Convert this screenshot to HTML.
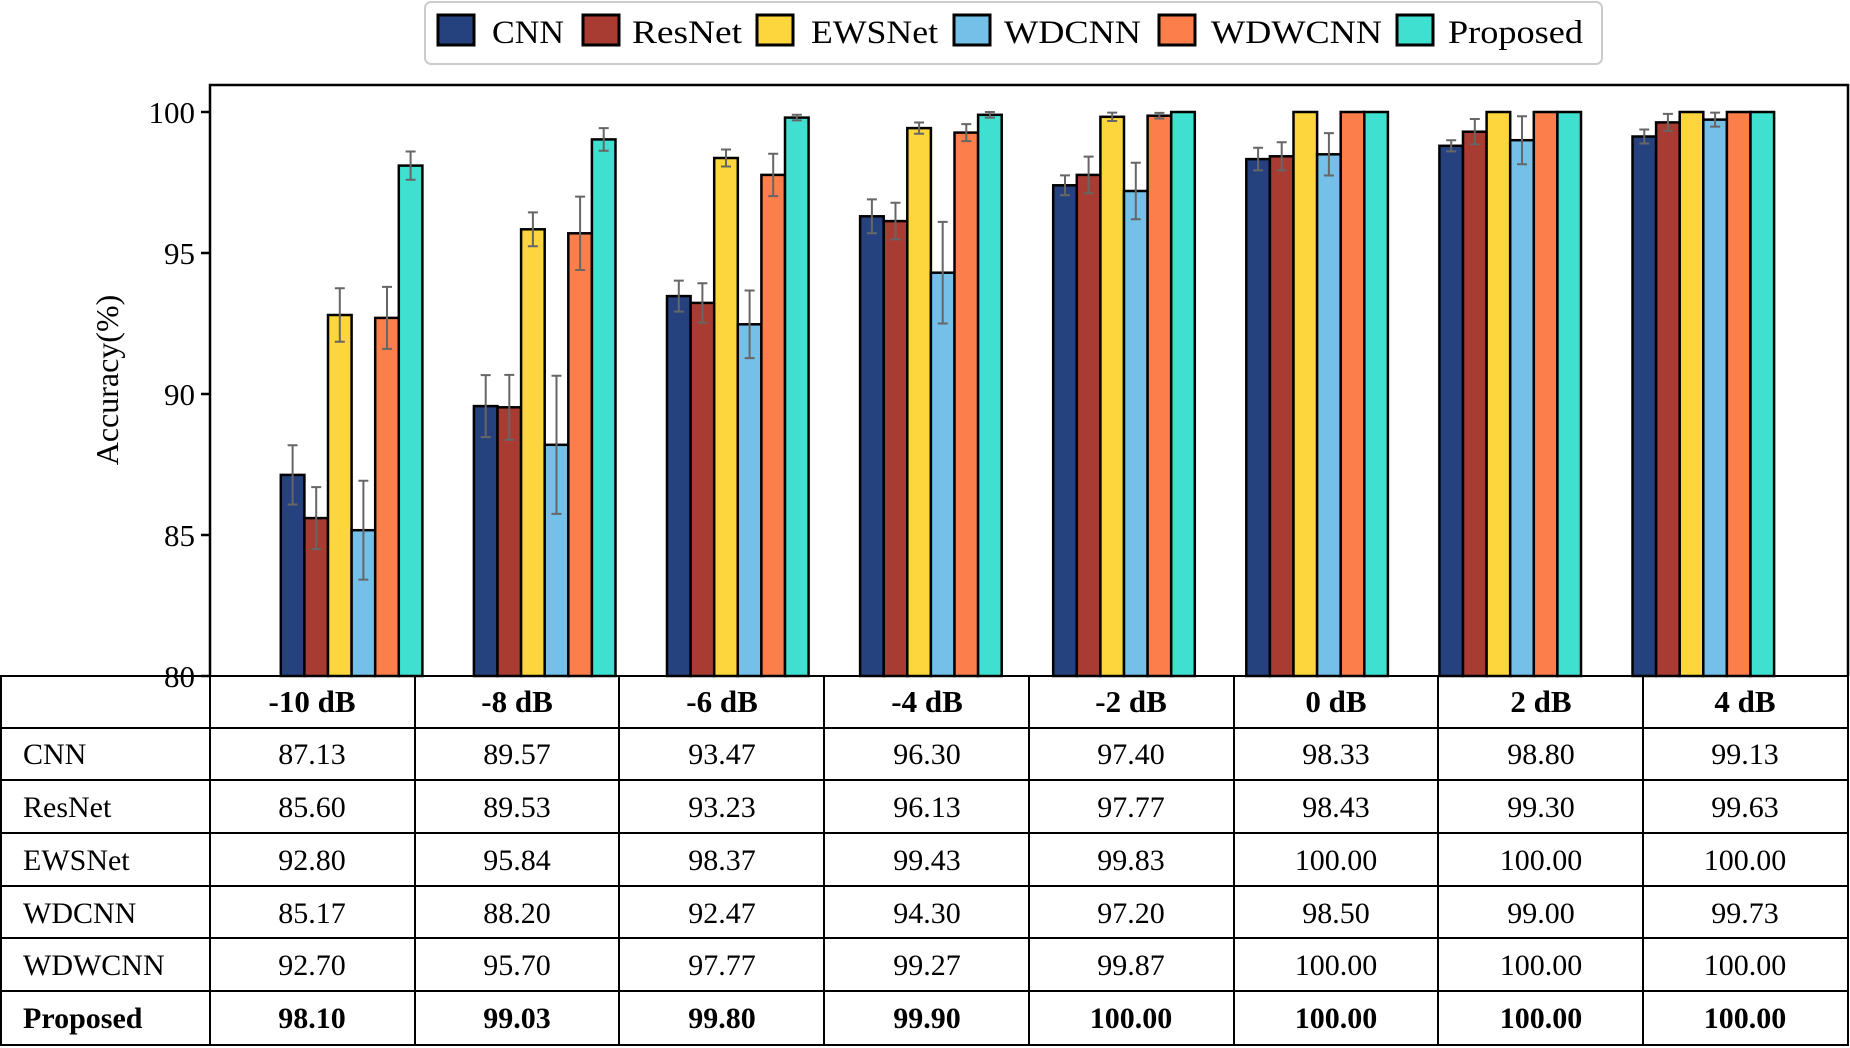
<!DOCTYPE html>
<html><head><meta charset="utf-8"><style>
html,body{margin:0;padding:0;background:#fff}
svg{display:block;font-family:"Liberation Serif",serif}
</style></head><body>
<svg width="1850" height="1048" viewBox="0 0 1850 1048" xmlns="http://www.w3.org/2000/svg">
<!-- legend -->
<rect x="425" y="2" width="1177" height="62" rx="6" fill="#fff" stroke="#ccc" stroke-width="2"/>
<g stroke="#000" stroke-width="3">
<rect x="438" y="15" width="36" height="30" fill="#26427e"/>
<rect x="583" y="15" width="36" height="30" fill="#a83c32"/>
<rect x="757" y="15" width="36" height="30" fill="#fdd53c"/>
<rect x="954" y="15" width="36" height="30" fill="#74c0e8"/>
<rect x="1159" y="15" width="36" height="30" fill="#fc7f4b"/>
<rect x="1397" y="15" width="36" height="30" fill="#40e0d0"/>
</g>
<g font-size="33" fill="#000" lengthAdjust="spacingAndGlyphs">
<text x="492" y="43" textLength="72" lengthAdjust="spacingAndGlyphs">CNN</text>
<text x="632" y="43" textLength="110" lengthAdjust="spacingAndGlyphs">ResNet</text>
<text x="811" y="43" textLength="127" lengthAdjust="spacingAndGlyphs">EWSNet</text>
<text x="1004" y="43" textLength="137" lengthAdjust="spacingAndGlyphs">WDCNN</text>
<text x="1211" y="43" textLength="171" lengthAdjust="spacingAndGlyphs">WDWCNN</text>
<text x="1448" y="43" textLength="135" lengthAdjust="spacingAndGlyphs">Proposed</text>
</g>
<!-- axes -->
<g stroke="#000" stroke-width="2.5" fill="none">
<path d="M210,676V85H1848V676"/>
<path d="M210,112h-9M210,253h-9M210,394h-9M210,535h-9M210,676h-9"/>
</g>
<g font-size="31" text-anchor="end">
<text x="195" y="123">100</text>
<text x="195" y="264">95</text>
<text x="195" y="405">90</text>
<text x="195" y="546">85</text>
<text x="195" y="687">80</text>
</g>
<text transform="translate(118,380) rotate(-90)" font-size="32" text-anchor="middle">Accuracy(%)</text>
<!-- bars -->
<g stroke="#000" stroke-width="2.5">
<g fill="#26427e">
<rect x="280.8" y="474.9" width="23.6" height="201.1"/>
<rect x="473.9" y="406.1" width="23.6" height="269.9"/>
<rect x="667.0" y="296.1" width="23.6" height="379.9"/>
<rect x="860.1" y="216.3" width="23.6" height="459.7"/>
<rect x="1053.2" y="185.3" width="23.6" height="490.7"/>
<rect x="1246.3" y="159.1" width="23.6" height="516.9"/>
<rect x="1439.4" y="145.8" width="23.6" height="530.2"/>
<rect x="1632.5" y="136.5" width="23.6" height="539.5"/>
</g>
<g fill="#a83c32">
<rect x="304.4" y="518.1" width="23.6" height="157.9"/>
<rect x="497.5" y="407.3" width="23.6" height="268.7"/>
<rect x="690.6" y="302.9" width="23.6" height="373.1"/>
<rect x="883.7" y="221.1" width="23.6" height="454.9"/>
<rect x="1076.8" y="174.9" width="23.6" height="501.1"/>
<rect x="1269.9" y="156.3" width="23.6" height="519.7"/>
<rect x="1463.0" y="131.7" width="23.6" height="544.3"/>
<rect x="1656.1" y="122.4" width="23.6" height="553.6"/>
</g>
<g fill="#fdd53c">
<rect x="328.0" y="315.0" width="23.6" height="361.0"/>
<rect x="521.1" y="229.3" width="23.6" height="446.7"/>
<rect x="714.2" y="158.0" width="23.6" height="518.0"/>
<rect x="907.3" y="128.1" width="23.6" height="547.9"/>
<rect x="1100.4" y="116.8" width="23.6" height="559.2"/>
<rect x="1293.5" y="112" width="23.6" height="564"/>
<rect x="1486.6" y="112" width="23.6" height="564"/>
<rect x="1679.7" y="112" width="23.6" height="564"/>
</g>
<g fill="#74c0e8">
<rect x="351.6" y="530.2" width="23.6" height="145.8"/>
<rect x="544.7" y="444.8" width="23.6" height="231.2"/>
<rect x="737.8" y="324.3" width="23.6" height="351.7"/>
<rect x="930.9" y="272.7" width="23.6" height="403.3"/>
<rect x="1124.0" y="191.0" width="23.6" height="485.0"/>
<rect x="1317.1" y="154.3" width="23.6" height="521.7"/>
<rect x="1510.2" y="140.2" width="23.6" height="535.8"/>
<rect x="1703.3" y="119.6" width="23.6" height="556.4"/>
</g>
<g fill="#fc7f4b">
<rect x="375.2" y="317.9" width="23.6" height="358.1"/>
<rect x="568.3" y="233.3" width="23.6" height="442.7"/>
<rect x="761.4" y="174.9" width="23.6" height="501.1"/>
<rect x="954.5" y="132.6" width="23.6" height="543.4"/>
<rect x="1147.6" y="115.7" width="23.6" height="560.3"/>
<rect x="1340.7" y="112" width="23.6" height="564"/>
<rect x="1533.8" y="112" width="23.6" height="564"/>
<rect x="1726.9" y="112" width="23.6" height="564"/>
</g>
<g fill="#40e0d0">
<rect x="398.8" y="165.6" width="23.6" height="510.4"/>
<rect x="591.9" y="139.4" width="23.6" height="536.6"/>
<rect x="785.0" y="117.6" width="23.6" height="558.4"/>
<rect x="978.1" y="114.8" width="23.6" height="561.2"/>
<rect x="1171.2" y="112" width="23.6" height="564"/>
<rect x="1364.3" y="112" width="23.6" height="564"/>
<rect x="1557.4" y="112" width="23.6" height="564"/>
<rect x="1750.5" y="112" width="23.6" height="564"/>
</g>
</g>
<!-- error bars -->
<g stroke="#666" stroke-width="2" fill="none">
<path d="M292.6,445.3V504.5M287.6,445.3h10M287.6,504.5h10"/>
<path d="M316.2,487.1V549.1M311.2,487.1h10M311.2,549.1h10"/>
<path d="M339.8,288.2V341.8M334.8,288.2h10M334.8,341.8h10"/>
<path d="M363.4,480.8V579.6M358.4,480.8h10M358.4,579.6h10"/>
<path d="M387.0,286.9V348.9M382,286.9h10M382,348.9h10"/>
<path d="M410.6,151.5V179.7M405.6,151.5h10M405.6,179.7h10"/>

<path d="M485.7,375.1V437.1M480.7,375.1h10M480.7,437.1h10"/>
<path d="M509.3,374.9V439.7M504.3,374.9h10M504.3,439.7h10"/>
<path d="M532.9,212.4V246.2M527.9,212.4h10M527.9,246.2h10"/>
<path d="M556.5,375.7V513.9M551.5,375.7h10M551.5,513.9h10"/>
<path d="M580.1,196.6V270.0M575.1,196.6h10M575.1,270.0h10"/>
<path d="M603.7,128.1V150.7M598.7,128.1h10M598.7,150.7h10"/>

<path d="M678.8,280.6V311.6M673.8,280.6h10M673.8,311.6h10"/>
<path d="M702.4,283.2V322.6M697.4,283.2h10M697.4,322.6h10"/>
<path d="M726.0,149.5V166.5M721,149.5h10M721,166.5h10"/>
<path d="M749.6,290.5V358.1M744.6,290.5h10M744.6,358.1h10"/>
<path d="M773.2,153.7V196.1M768.2,153.7h10M768.2,196.1h10"/>
<path d="M796.8,114.8V120.4M791.8,114.8h10M791.8,120.4h10"/>

<path d="M871.9,199.4V233.2M866.9,199.4h10M866.9,233.2h10"/>
<path d="M895.5,202.8V239.4M890.5,202.8h10M890.5,239.4h10"/>
<path d="M919.1,122.5V133.7M914.1,122.5h10M914.1,133.7h10"/>
<path d="M942.7,221.9V323.5M937.7,221.9h10M937.7,323.5h10"/>
<path d="M966.3,124.1V141.1M961.3,124.1h10M961.3,141.1h10"/>
<path d="M989.9,112V117.6M984.9,112h10M984.9,117.6h10"/>

<path d="M1065.0,175.4V195.2M1060,175.4h10M1060,195.2h10"/>
<path d="M1088.6,156.6V193.2M1083.6,156.6h10M1083.6,193.2h10"/>
<path d="M1112.2,112.6V121.0M1107.2,112.6h10M1107.2,121.0h10"/>
<path d="M1135.8,162.8V219.2M1130.8,162.8h10M1130.8,219.2h10"/>
<path d="M1159.4,112.9V118.5M1154.4,112.9h10M1154.4,118.5h10"/>

<path d="M1258.1,147.8V170.4M1253.1,147.8h10M1253.1,170.4h10"/>
<path d="M1281.7,142.2V170.4M1276.7,142.2h10M1276.7,170.4h10"/>
<path d="M1328.9,133.1V175.5M1323.9,133.1h10M1323.9,175.5h10"/>

<path d="M1451.2,140.2V151.4M1446.2,140.2h10M1446.2,151.4h10"/>
<path d="M1474.8,119.0V144.4M1469.8,119.0h10M1469.8,144.4h10"/>
<path d="M1522.0,116.2V164.2M1517,116.2h10M1517,164.2h10"/>

<path d="M1644.3,129.5V143.5M1639.3,129.5h10M1639.3,143.5h10"/>
<path d="M1667.9,113.9V130.9M1662.9,113.9h10M1662.9,130.9h10"/>
<path d="M1715.1,112.6V126.6M1710.1,112.6h10M1710.1,126.6h10"/>
</g>
<!-- table -->
<g stroke="#000" stroke-width="2" fill="none">
<rect x="1" y="676" width="1847" height="369"/>
<path d="M1,728H1848M1,780H1848M1,833H1848M1,886H1848M1,938H1848M1,991H1848"/>
<path d="M210,676V1045M415,676V1045M619,676V1045M824,676V1045M1029,676V1045M1234,676V1045M1438,676V1045M1643,676V1045"/>
</g>
<g font-size="30" text-anchor="middle">
<g font-weight="bold" font-size="31">
<text x="312" y="712">-10 dB</text><text x="517" y="712">-8 dB</text><text x="722" y="712">-6 dB</text><text x="927" y="712">-4 dB</text><text x="1131" y="712">-2 dB</text><text x="1336" y="712">0 dB</text><text x="1541" y="712">2 dB</text><text x="1745" y="712">4 dB</text>
</g>
<text x="312" y="764">87.13</text><text x="517" y="764">89.57</text><text x="722" y="764">93.47</text><text x="927" y="764">96.30</text><text x="1131" y="764">97.40</text><text x="1336" y="764">98.33</text><text x="1541" y="764">98.80</text><text x="1745" y="764">99.13</text>
<text x="312" y="817">85.60</text><text x="517" y="817">89.53</text><text x="722" y="817">93.23</text><text x="927" y="817">96.13</text><text x="1131" y="817">97.77</text><text x="1336" y="817">98.43</text><text x="1541" y="817">99.30</text><text x="1745" y="817">99.63</text>
<text x="312" y="870">92.80</text><text x="517" y="870">95.84</text><text x="722" y="870">98.37</text><text x="927" y="870">99.43</text><text x="1131" y="870">99.83</text><text x="1336" y="870">100.00</text><text x="1541" y="870">100.00</text><text x="1745" y="870">100.00</text>
<text x="312" y="923">85.17</text><text x="517" y="923">88.20</text><text x="722" y="923">92.47</text><text x="927" y="923">94.30</text><text x="1131" y="923">97.20</text><text x="1336" y="923">98.50</text><text x="1541" y="923">99.00</text><text x="1745" y="923">99.73</text>
<text x="312" y="975">92.70</text><text x="517" y="975">95.70</text><text x="722" y="975">97.77</text><text x="927" y="975">99.27</text><text x="1131" y="975">99.87</text><text x="1336" y="975">100.00</text><text x="1541" y="975">100.00</text><text x="1745" y="975">100.00</text>
<g font-weight="bold">
<text x="312" y="1028">98.10</text><text x="517" y="1028">99.03</text><text x="722" y="1028">99.80</text><text x="927" y="1028">99.90</text><text x="1131" y="1028">100.00</text><text x="1336" y="1028">100.00</text><text x="1541" y="1028">100.00</text><text x="1745" y="1028">100.00</text>
</g>
</g>
<g font-size="30">
<text x="23" y="764">CNN</text>
<text x="23" y="817">ResNet</text>
<text x="23" y="870">EWSNet</text>
<text x="23" y="923">WDCNN</text>
<text x="23" y="975">WDWCNN</text>
<text x="23" y="1028" font-weight="bold">Proposed</text>
</g>
</svg>
</body></html>
